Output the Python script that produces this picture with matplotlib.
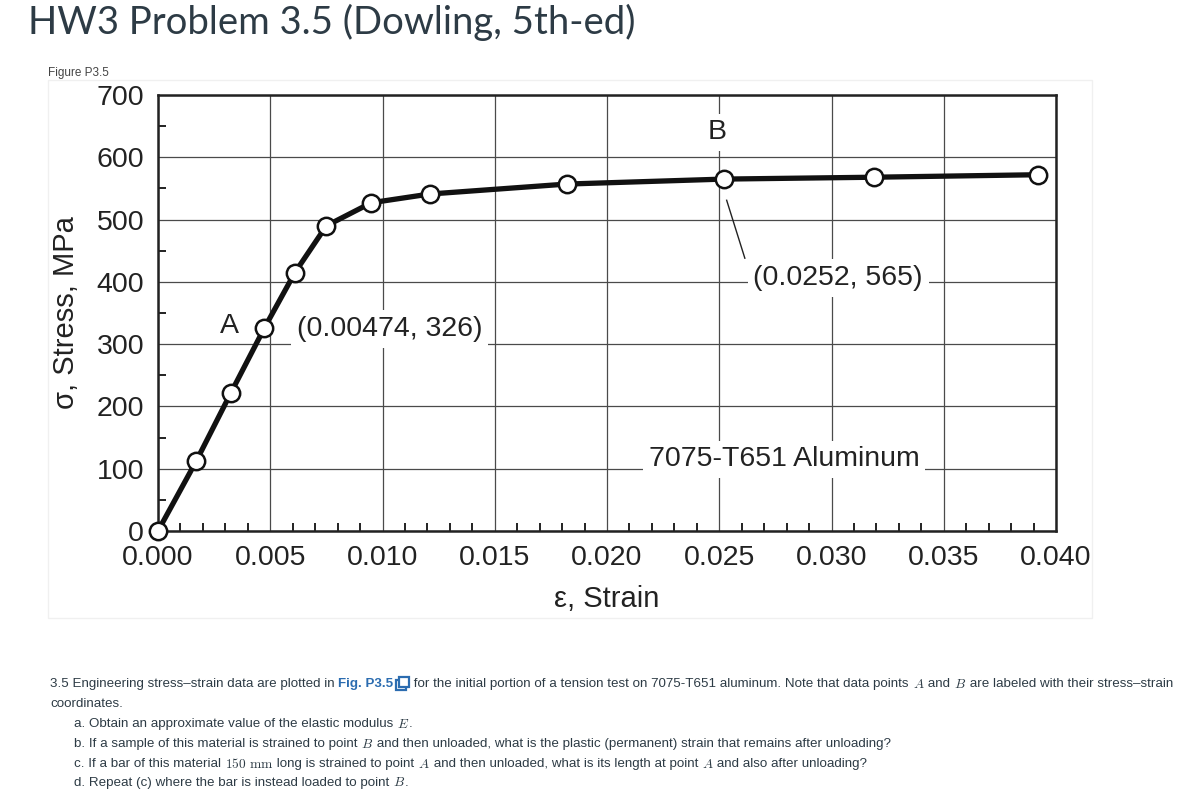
import matplotlib
matplotlib.use("Agg")
import matplotlib.pyplot as plt
from matplotlib.ticker import MultipleLocator, FormatStrFormatter

plt.rcParams["mathtext.fontset"] = "cm"

# data
strain = [0.0, 0.0017, 0.00325, 0.00474, 0.0061, 0.0075, 0.0095, 0.0121, 0.0182, 0.0252, 0.0319, 0.0392]
stress = [0, 112, 222, 326, 415, 490, 527, 541, 557, 565, 568, 572]

x_ticks = [0.000, 0.005, 0.010, 0.015, 0.020, 0.025, 0.030, 0.035, 0.040]
y_ticks = [0, 100, 200, 300, 400, 500, 600, 700]

chart_font = "Liberation Sans"
ink = "#222222"
page = "#2d3b45"
link = "#2b6cb0"

fig = plt.figure(figsize=(11.8, 7.96), dpi=100)
fig.patch.set_facecolor("white")

# faint frame of the embedded image
fig.add_artist(plt.Rectangle((48 / 1180, 1 - 618 / 796), 1044 / 1180, 538 / 796,
                             transform=fig.transFigure, fill=False,
                             edgecolor="#f0f0f0", linewidth=1))

ax = fig.add_axes([158 / 1180, 1 - 531 / 796, 898 / 1180, 436 / 796])
ax.set_xlim(0, 0.040)
ax.set_ylim(0, 700)

ax.set_xticks(x_ticks)
ax.set_yticks(y_ticks)
ax.xaxis.set_major_formatter(FormatStrFormatter("%.3f"))
ax.xaxis.set_minor_locator(MultipleLocator(0.001))
ax.yaxis.set_minor_locator(MultipleLocator(50))
ax.grid(True, which="major", color="#4a4a4a", linewidth=0.9, zorder=0)
ax.tick_params(which="both", direction="in", top=False, right=False, color=ink)
ax.tick_params(which="major", length=0, pad=10, labelsize=20.5, labelcolor=ink)
ax.tick_params(which="minor", length=6, width=1.4)
for lab in ax.get_xticklabels() + ax.get_yticklabels():
    lab.set_fontfamily(chart_font)
for sp in ax.spines.values():
    sp.set_linewidth(1.8)
    sp.set_color(ink)

ax.plot(strain, stress, color="#111111", linewidth=3.8, zorder=3, clip_on=False,
        marker="o", markersize=12.5, markerfacecolor="white",
        markeredgecolor="#111111", markeredgewidth=1.8, solid_joinstyle="round")

box = dict(facecolor="white", edgecolor="none", pad=4)
tk = dict(fontsize=20.5, fontfamily=chart_font, color=ink, zorder=2)
ax.text(0.0032, 329, "A", ha="center", va="center", **tk)
ax.text(0.0062, 324, "(0.00474, 326)", ha="left", va="center", bbox=box, **tk)
ax.text(0.0249, 640, "B", ha="center", va="center", bbox=box, **tk)
ax.plot([0.02533, 0.02614], [531, 438], color=ink, linewidth=1.0, zorder=2)
ax.text(0.0303, 406, "(0.0252, 565)", ha="center", va="center", bbox=box, **tk)
ax.text(0.0279, 115, "7075-T651 Aluminum", ha="center", va="center", bbox=box, **tk)

ax.set_xlabel("ε, Strain", fontsize=21, fontfamily=chart_font, color=ink, labelpad=10)
ax.set_ylabel("σ, Stress, MPa", fontsize=21, fontfamily=chart_font, color=ink, labelpad=12)

# page elements around the figure
fig.text(28 / 1180, 1 - 22 / 796, "HW3 Problem 3.5 (Dowling, 5th-ed)", fontsize=27.5,
         fontfamily="Lato", color=page, ha="left", va="center")
fig.text(48 / 1180, 1 - 73 / 796, "Figure P3.5", fontsize=8.5, fontfamily=chart_font,
         color="#444444", ha="left", va="center")

fig.canvas.draw()
renderer = fig.canvas.get_renderer()


def write_line(x_px, y_px, pieces, size=9.65):
    x = x_px
    for txt, style in pieces:
        if txt == "ICON":
            # small "open in new window" square drawn as shapes
            fig.add_artist(plt.Rectangle(((x + 2) / 1180, 1 - (y_px + 6) / 796), 10 / 1180, 10 / 796,
                                         transform=fig.transFigure, fill=False,
                                         edgecolor=link, linewidth=1.6))
            fig.add_artist(plt.Rectangle(((x + 5) / 1180, 1 - (y_px + 3) / 796), 10 / 1180, 10 / 796,
                                         transform=fig.transFigure, facecolor="white",
                                         edgecolor=link, linewidth=1.6))
            x += 17
            continue
        kw = dict(fontsize=size, fontfamily=chart_font, color=page, ha="left", va="center")
        kw.update(style)
        t = fig.text(x / 1180, 1 - y_px / 796, txt, **kw)
        x += t.get_window_extent(renderer).width


blue = dict(color=link, fontweight="bold")
write_line(50, 684, [
    ("3.5 Engineering stress–strain data are plotted in ", {}),
    ("Fig. P3.5", blue),
    ("ICON", {}),
    (" for the initial portion of a tension test on 7075-T651 aluminum. Note that data points ", {}),
    ("$A$", {}), (" and ", {}), ("$B$", {}),
    (" are labeled with their stress–strain", {}),
])
write_line(50, 704, [("coordinates.", {})])
write_line(74, 724, [("a. Obtain an approximate value of the elastic modulus ", {}), ("$E$", {}), (".", {})])
write_line(74, 744, [("b. If a sample of this material is strained to point ", {}), ("$B$", {}),
                     (" and then unloaded, what is the plastic (permanent) strain that remains after unloading?", {})])
write_line(74, 764, [("c. If a bar of this material ", {}), ("$150\\ \\mathrm{mm}$", {}),
                     (" long is strained to point ", {}), ("$A$", {}),
                     (" and then unloaded, what is its length at point ", {}), ("$A$", {}),
                     (" and also after unloading?", {})])
write_line(74, 783, [("d. Repeat (c) where the bar is instead loaded to point ", {}), ("$B$", {}), (".", {})])

fig.savefig("out.png", dpi=100)
